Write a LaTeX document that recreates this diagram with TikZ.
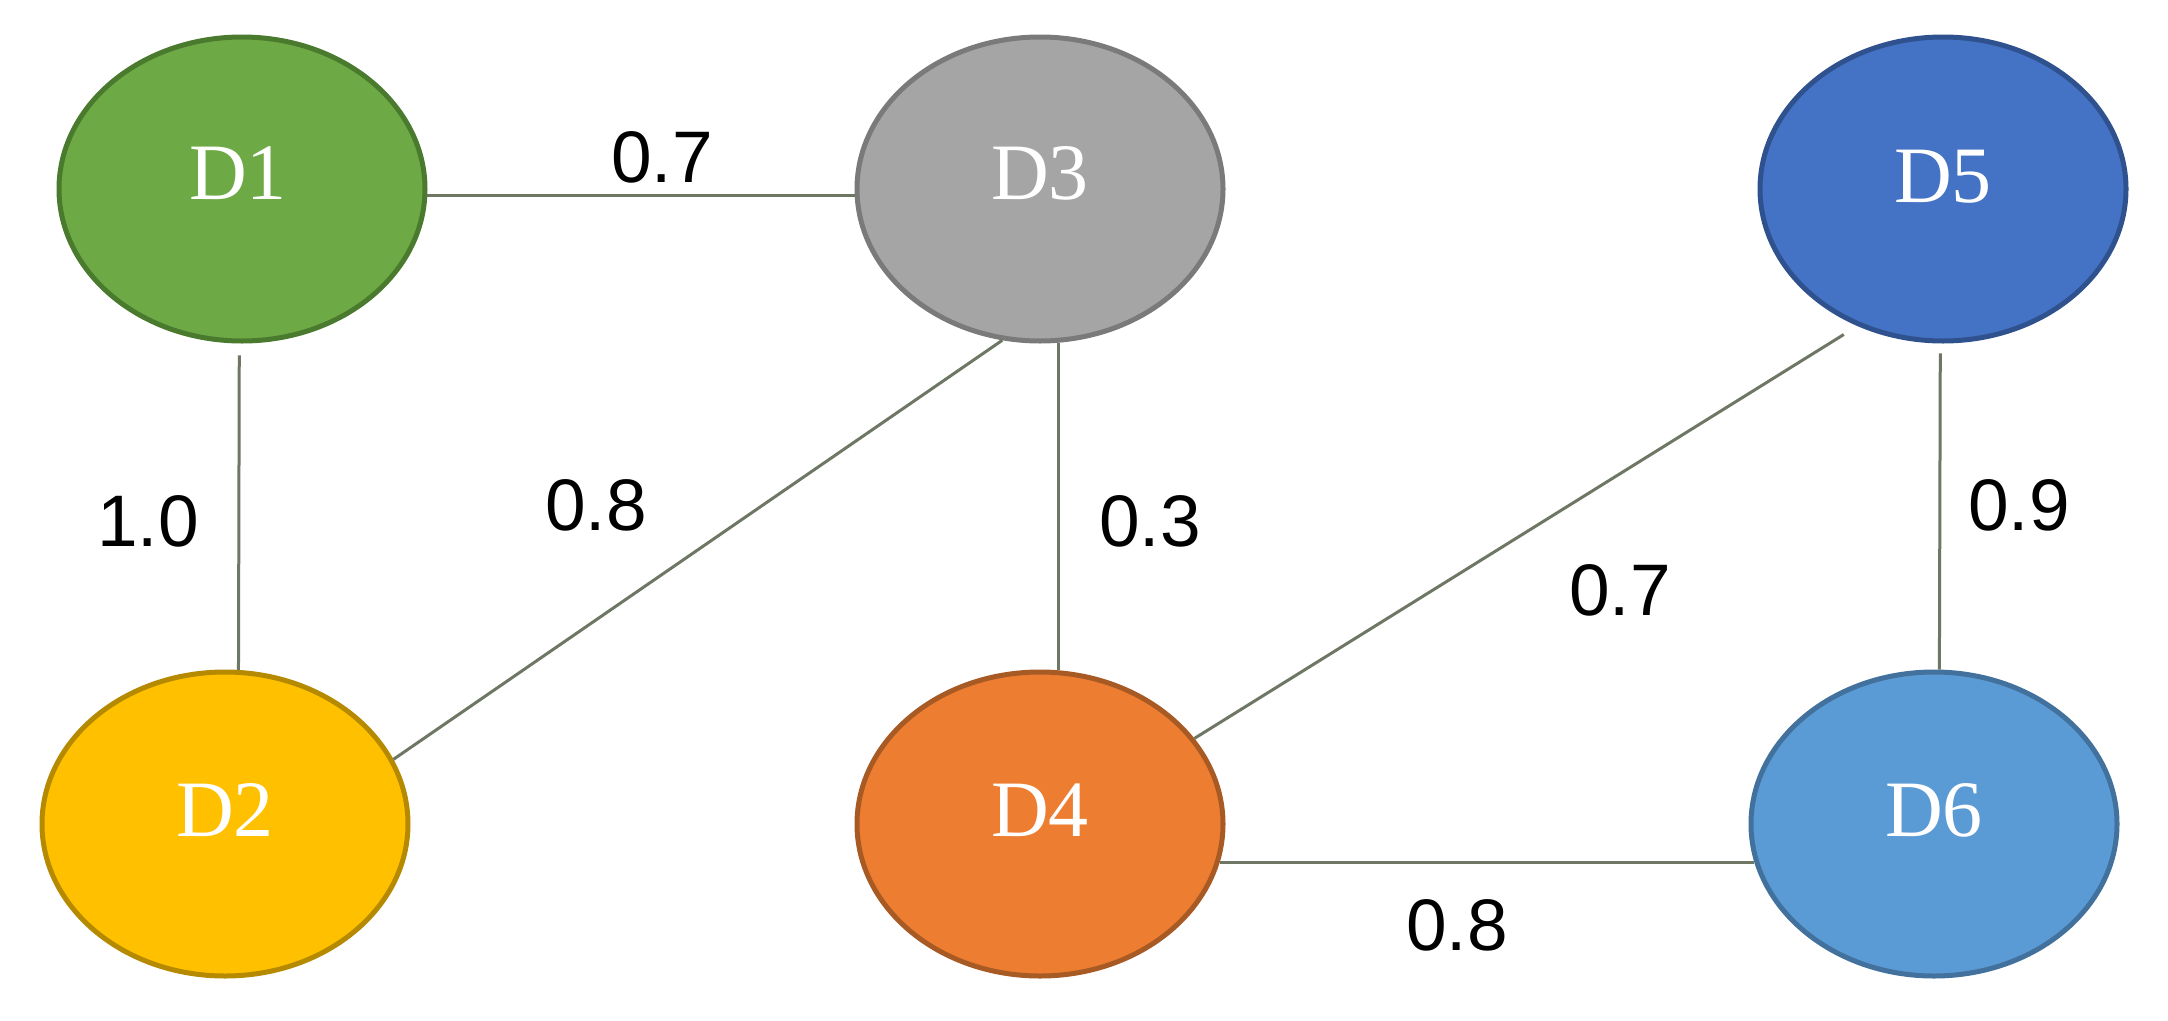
\documentclass[tikz,border=0pt]{standalone}
\usepackage{fontspec}
\setmainfont{Liberation Serif}
\newfontfamily\lblfont{Liberation Sans}
\usetikzlibrary{shapes.geometric}
\definecolor{gF}{HTML}{6DAA45}\definecolor{gB}{HTML}{4A7A2E}
\definecolor{yF}{HTML}{FFC000}\definecolor{yB}{HTML}{B58A00}
\definecolor{sF}{HTML}{A5A5A5}\definecolor{sB}{HTML}{7A7A7A}
\definecolor{oF}{HTML}{ED7D31}\definecolor{oB}{HTML}{A85A25}
\definecolor{bF}{HTML}{4472C4}\definecolor{bB}{HTML}{2F528F}
\definecolor{lF}{HTML}{5B9BD5}\definecolor{lB}{HTML}{41719C}
\definecolor{edgeC}{HTML}{6E7763}
\tikzset{
  dnode/.style={ellipse, minimum width=366pt, minimum height=304pt, line width=5pt,
    inner sep=0pt, text=white, font=\fontsize{79pt}{79pt}\selectfont},
  dtext/.style={text=white, font=\fontsize{80pt}{80pt}\selectfont},
  dlabel/.style={font=\lblfont\fontsize{73pt}{73pt}\selectfont, text=black, inner sep=0pt},
  edge/.style={draw=edgeC, line width=3pt},
}
\begin{document}
\begin{tikzpicture}[x=1pt,y=-1pt]
\useasboundingbox (0,0) rectangle (2168,1020);
% nodes
\node[dnode, fill=gF, draw=gB] (D1) at (242,189) {};
\node[dnode, fill=sF, draw=sB] (D3) at (1040,189) {};
\node[dnode, fill=bF, draw=bB] (D5) at (1943,189) {};
\node[dnode, fill=yF, draw=yB] (D2) at (225,824) {};
\node[dnode, fill=oF, draw=oB] (D4) at (1040,824) {};
\node[dnode, fill=lF, draw=lB] (D6) at (1934,824) {};
\node[dtext] (t1) at (238,173) {D1};
\node[dtext] (t3) at (1040,173) {D3};
\node[dtext] (t5) at (1943,177) {D5};
\node[dtext] (t2) at (225,810) {D2};
\node[dtext] (t4) at (1040,810) {D4};
\node[dtext] (t6) at (1934,810) {D6};
% edges
\draw[edge] (D1.-2) -- (D3.182);
\draw[edge, shorten <=12pt] (D1.-91) -- (D2.85);
\draw[edge] (D3.-104) -- (D2.21);
\draw[edge] (D3.-83) -- (D4.83);
\draw[edge, shorten >=16pt] (D4.29) -- (D5.-122);
\draw[edge, shorten <=10pt] (D5.-91) -- (D6.88);
\draw[edge] (D4.-12) -- (D6.192);
% labels
\node[dlabel] (l13) at (662,157) {0.7};
\node[dlabel] (l12) at (148,521) {1.0};
\node[dlabel] (l23) at (596,505) {0.8};
\node[dlabel] (l34) at (1150,521) {0.3};
\node[dlabel] (l56) at (2019,505) {0.9};
\node[dlabel] (l45) at (1620,590) {0.7};
\node[dlabel] (l46) at (1457,925) {0.8};
\end{tikzpicture}
\end{document}
